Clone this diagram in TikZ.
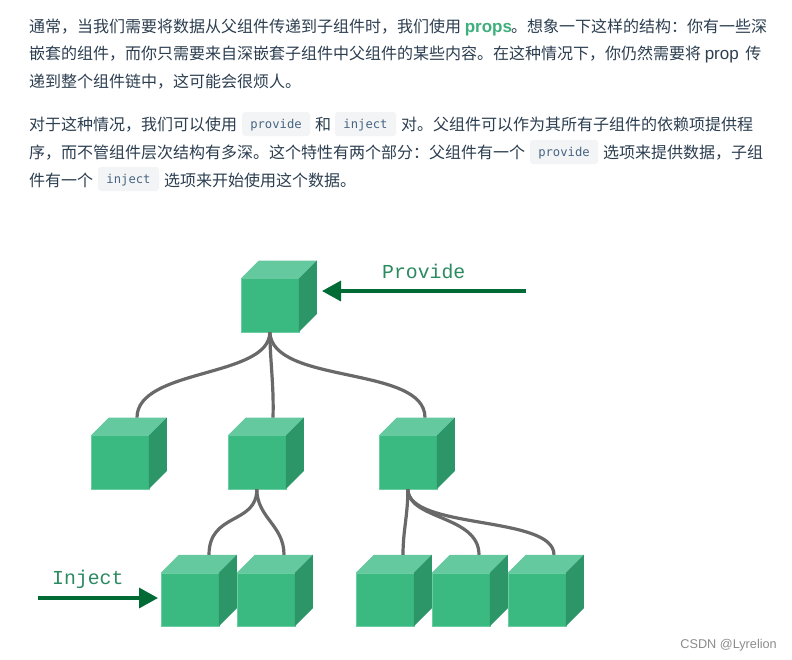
\documentclass[tikz,border=0pt]{standalone}
\usepackage{fontspec}
\setmainfont{Noto Sans CJK SC}
\newfontfamily\latfont{Liberation Sans}
\newfontfamily\codefont{DejaVu Sans Mono}
\newfontfamily\labelfont{Liberation Mono}
\definecolor{bodytext}{HTML}{2C3E50}
\definecolor{propsgreen}{HTML}{3EAF7C}
\definecolor{chipback}{HTML}{F3F4F5}
\definecolor{chiptext}{HTML}{476582}
\definecolor{cubefront}{HTML}{3ABA81}
\definecolor{cubetop}{HTML}{65C9A0}
\definecolor{cubeside}{HTML}{2D9669}
\definecolor{cubeedge}{HTML}{6CCDA4}
\definecolor{linkgray}{HTML}{696969}
\definecolor{arrowgreen}{HTML}{006B35}
\definecolor{labelgreen}{HTML}{2A8A60}
\usetikzlibrary{arrows.meta}
\tikzset{
 para/.style={anchor=base west,inner sep=0,text=bodytext,font=\fontsize{16}{16}\selectfont},
 chip/.style={anchor=center,fill=chipback,rounded corners=3pt,text=chiptext,inner sep=0,
  minimum height=24pt,text height=8pt,text depth=0pt,font=\codefont\fontsize{12.2}{12.2}\selectfont},
 cube/.style={anchor=north west,fill=cubefront,draw=cubeedge,line width=.5pt,inner sep=0,outer sep=0,
  minimum width=58pt,minimum height=53.5pt},
 link/.style={draw=linkgray,line width=3.2pt},
 pointer/.style={draw=arrowgreen,line width=3.4pt,-{Triangle[length=19pt,width=20pt]}},
 tag/.style={anchor=base west,inner sep=0,text=labelgreen,font=\labelfont\fontsize{19.8}{19.8}\selectfont},
}
\begin{document}
\begin{tikzpicture}[x=1pt,y=-1pt]
 \useasboundingbox (0,0) rectangle (792,659);
 \fill[white] (0,0) rectangle (792,659);
 % text above the picture
 \node[para] (lineA) at (29,32.5) {通常，当我们需要将数据从父组件传递到子组件时，我们使用 {\latfont\bfseries\fontsize{17}{17}\selectfont\color{propsgreen}props}\hspace{-1pt}。想象一下这样的结构：你有一些深};
 \node[para] (lineB) at (29,59) {嵌套的组件，而你只需要来自深嵌套子组件中父组件的某些内容。在这种情况下，你仍然需要将 {\latfont\fontsize{17}{17}\selectfont prop}\hspace{3pt} 传};
 \node[para] (lineC) at (29,87) {递到整个组件链中，这可能会很烦人。};
 \node[para] (lineD) at (29,130) {对于这种情况，我们可以使用};
 \node[chip,minimum width=68pt] (chipA) at (276,124) {provide};
 \node[para] (lineDa) at (315,130) {和};
 \node[chip,minimum width=61pt] (chipB) at (365.5,124) {inject};
 \node[para] (lineDb) at (401,130) {对。父组件可以作为其所有子组件的依赖项提供程};
 \node[para] (lineE) at (29,158) {序，而不管组件层次结构有多深。这个特性有两个部分：父组件有一个};
 \node[chip,minimum width=68pt] (chipC) at (564,152) {provide};
 \node[para] (lineEa) at (603,158) {选项来提供数据，子组};
 \node[para] (lineF) at (29,186) {件有一个};
 \node[chip,minimum width=61pt] (chipD) at (128.5,179) {inject};
 \node[para] (lineFa) at (164,186) {选项来开始使用这个数据。};
 % cubes
 \foreach \n/\x/\y/\t in {root/240.8/278.6/29.2,
  kidA/90.8/435.6/46.2,kidB/227.8/435.6/45.2,kidC/378.8/435.6/46.2,
  leafA/160.8/572.8/48.2,leafB/236.8/572.8/47.2,leafC/355.8/572.8/47.2,leafD/431.8/572.8/47.2,leafE/507.8/572.8/46.2} {
  \node[cube] (\n) at (\x,\y) {};
  \fill[cubetop] (\n.north west) -- ++(18,-18) -- ++(58,0) -- (\n.north east) -- cycle;
  \fill[cubeside] (\n.north east) -- ++(18,-18) -- ++(0,53.5) -- (\n.south east) -- cycle;
  \coordinate (\n T) at ([shift={(\t,-18)}]\n.north west);
 }
 % links
 \draw[link] (root.south) .. controls (270,378) and (137,368) .. (kidAT);
 \draw[link] (root.south) .. controls (270,360) and (274,385) .. (kidBT);
 \draw[link] (root.south) .. controls (272,385) and (425,365) .. (kidCT);
 \draw[link] (kidB.south) .. controls (257,525) and (209,512) .. (leafAT);
 \draw[link] (kidB.south) .. controls (257,518) and (284,525) .. (leafBT);
 \draw[link] (kidC.south) .. controls (408,515) and (403,530) .. (leafCT);
 \draw[link] (kidC.south) .. controls (408,520) and (479,515) .. (leafDT);
 \draw[link] (kidC.south) .. controls (408,530) and (554,515) .. (leafET);
 % arrows and their labels
 \node[tag] (provideTag) at (382,278) {Provide};
 \coordinate (provideEnd) at (526,291);
 \coordinate (provideTip) at (322,291);
 \draw[pointer] (provideEnd) -- (provideTip);
 \node[tag] (injectTag) at (52,584) {Inject};
 \coordinate (injectEnd) at (38,598);
 \coordinate (injectTip) at (158,598);
 \draw[pointer] (injectEnd) -- (injectTip);
 \node[anchor=base east,inner sep=0,text=black!45,font=\latfont\fontsize{12.7}{12.7}\selectfont] (mark) at (777,648) {CSDN @Lyrelion};
\end{tikzpicture}
\end{document}
